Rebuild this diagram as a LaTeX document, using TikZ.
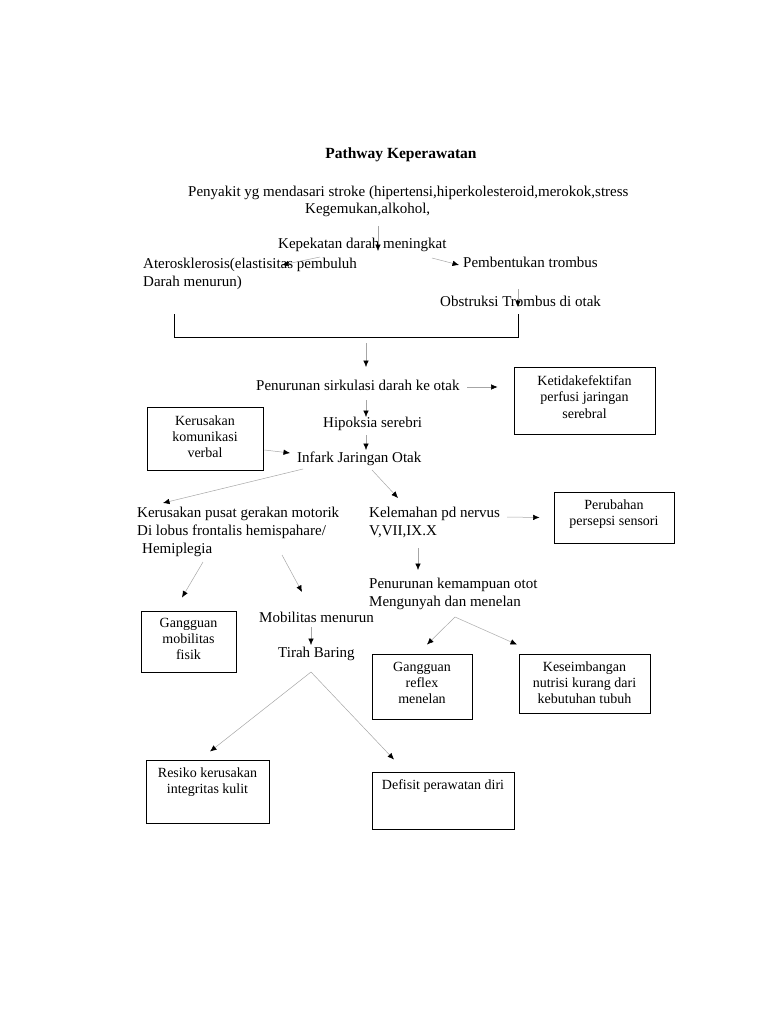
\documentclass[tikz,border=0pt]{standalone}
\usepackage{fontspec}
\setmainfont{Liberation Serif}
\usetikzlibrary{arrows.meta, positioning}

\begin{document}
\begin{tikzpicture}[x=1pt, y=-1pt,
    txt/.style={inner sep=0pt, anchor=west, font=\fontsize{15}{18}\selectfont, text height=10pt, text depth=3pt},
    blk/.style={inner sep=0pt, anchor=north west, align=left, font=\fontsize{15}{18}\selectfont},
    box/.style={draw, line width=0.9pt, inner sep=0pt},
    boxtxt/.style={inner sep=0pt, align=center, font=\fontsize{14}{16.2}\selectfont},
    arr/.style={draw=gray!70, line width=0.5pt, -{Latex[black,length=6.5pt,width=5.5pt]}},
    brk/.style={line width=0.9pt}]
  \useasboundingbox (0,0) rectangle (768,1024);
  %pathway stroke
  \node[txt, anchor=center, font=\fontsize{15.5}{18}\selectfont\bfseries] (judul) at (401,155) {Pathway Keperawatan};
  \node[txt] (pen1) at (188,193) {Penyakit yg mendasari stroke (hipertensi,hiperkolesteroid,merokok,stress};
  \node[txt] (pen2) at (305,210) {Kegemukan,alkohol,};
  \node[txt] (kep) at (278,245) {Kepekatan darah meningkat};
  \node[blk] (ateros) at (143,257.5) {Aterosklerosis(elastisitas pembuluh\\Darah menurun)};
  \node[txt] (pemb) at (463,264) {Pembentukan trombus};
  \node[txt] (obstr) at (440,303) {Obstruksi Trombus di otak};

  \node[txt] (sirk) at (256,387) {Penurunan sirkulasi darah ke otak};
  \node[txt] (hipo) at (323,424) {Hipoksia serebri};
  \node[txt] (infark) at (297,459) {Infark Jaringan Otak};
  \node[blk] (motorik) at (137,506.5) {Kerusakan pusat gerakan motorik\\Di lobus frontalis hemispahare/\\\hspace{5pt}Hemiplegia};
  \node[blk] (nervus) at (369,506.5) {Kelemahan pd nervus\\V,VII,IX.X};
  \node[blk] (otot) at (369,577.5) {Penurunan kemampuan otot\\Mengunyah dan menelan};
  \node[txt] (mobil) at (259,619) {Mobilitas menurun};
  \node[txt] (tirah) at (278,654) {Tirah Baring};

  % kotak diagnosa
  \node[box, minimum width=116pt, minimum height=63pt] (kom) at (205,438.5) {};
  \node[box, minimum width=141pt, minimum height=67pt] (perfusi) at (584.5,400.5) {};
  \node[box, minimum width=120pt, minimum height=51pt] (sensori) at (614,517.5) {};
  \node[box, minimum width=95pt, minimum height=61pt] (fisik) at (188.5,641.5) {};
  \node[box, minimum width=100pt, minimum height=65pt] (reflex) at (422,686.5) {};
  \node[box, minimum width=131pt, minimum height=59pt] (nutrisi) at (584.5,683.5) {};
  \node[box, minimum width=123pt, minimum height=63pt] (kulit) at (207.5,791.5) {};
  \node[box, minimum width=142pt, minimum height=57pt] (diri) at (443,800.5) {};

  \node[boxtxt, below=9pt of kom.north] {Kerusakan\\komunikasi\\verbal};
  \node[boxtxt, below=9pt of perfusi.north] {Ketidakefektifan\\perfusi jaringan\\serebral};
  \node[boxtxt, below=8pt of sensori.north] {Perubahan\\persepsi sensori};
  \node[boxtxt, below=7pt of fisik.north] {Gangguan\\mobilitas\\fisik};
  \node[boxtxt, below=8pt of reflex.north] {Gangguan\\reflex\\menelan};
  \node[boxtxt, below=8pt of nutrisi.north] {Keseimbangan\\nutrisi kurang dari\\kebutuhan tubuh};
  \node[boxtxt, below=8pt of kulit.north] {Resiko kerusakan\\integritas kulit};
  \node[boxtxt, below=8pt of diri.north] {Defisit perawatan diri};

  % panah
  \draw[arr] ([shift={(73,16)}]pen2.west) -- ([shift={(100,6)}]kep.west);
  \draw[arr] ([shift={(42,12)}]kep.west) -- ([shift={(139,7.5)}]ateros.north west);
  \draw[arr] ([shift={(154,13)}]kep.west) -- ([shift={(-4,1)}]pemb.west);
  \draw[arr] ([shift={(55,25)}]pemb.west) -- ([shift={(78,4)}]obstr.west);
  \draw[brk] ([shift={(31,56.5)}]ateros.north west) -- ++(0,23) -| ([shift={(78,11)}]obstr.west);
  \draw[arr] ([shift={(110,-44)}]sirk.west) -- ([shift={(110,-20)}]sirk.west);
  \draw[arr] ([shift={(211,0)}]sirk.west) -- ([xshift=-16pt]perfusi.west |- sirk.west);
  \draw[arr] ([shift={(110,13)}]sirk.west) -- ([shift={(43,-7)}]hipo.west);
  \draw[arr] ([shift={(43,11)}]hipo.west) -- ([shift={(69,-9)}]infark.west);
  \draw[arr] ([shift={(1,11.5)}]kom.east) -- ([shift={(-7,-6)}]infark.west);
  \draw[arr] ([shift={(6,10)}]infark.west) -- ([shift={(26,-3.5)}]motorik.north west);
  \draw[arr] ([shift={(75,11)}]infark.west) -- ([shift={(29,-8.5)}]nervus.north west);
  \draw[arr] ([shift={(138,10.5)}]nervus.north west) -- ([xshift=-14pt]sensori.west);
  \draw[arr] ([shift={(66,55.5)}]motorik.north west) -- ([shift={(-6.5,-13)}]fisik.north);
  \draw[arr] ([shift={(145,48.5)}]motorik.north west) -- ([shift={(43,-27)}]mobil.west);
  \draw[arr] ([shift={(49,41.5)}]nervus.north west) -- ([shift={(49,-7.5)}]otot.north west);
  \draw[arr] ([shift={(86,39.5)}]otot.north west) -- ([shift={(5,-9)}]reflex.north);
  \draw[arr] ([shift={(86,39.5)}]otot.north west) -- ([shift={(-67.5,-9)}]nutrisi.north);
  \draw[arr] ([shift={(52,8)}]mobil.west) -- ([shift={(33,-9)}]tirah.west);
  \draw[arr] ([shift={(33,18)}]tirah.west) -- ([shift={(2.5,-8)}]kulit.north);
  \draw[arr] ([shift={(33,18)}]tirah.west) -- ([shift={(-49,-12)}]diri.north);
\end{tikzpicture}
\end{document}
